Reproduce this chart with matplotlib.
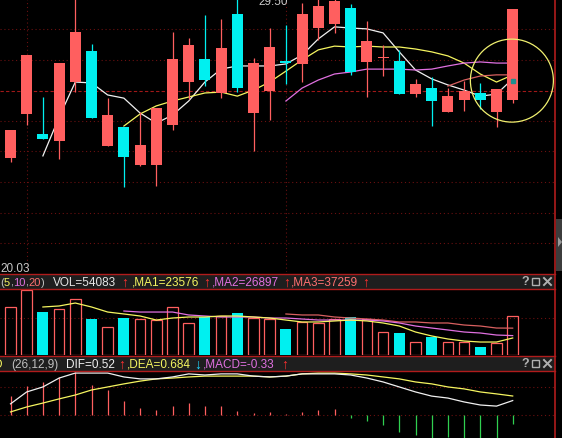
import numpy as np
import matplotlib.pyplot as plt
from matplotlib.patches import Rectangle, Ellipse, Polygon

plt.rcParams['font.family'] = ['Liberation Sans', 'DejaVu Sans']

nan = np.nan

# daily bars, oldest first
opens = [23.97, 25.50, 24.80, 24.56, 26.61, 27.69, 24.38, 25.05, 23.72, 23.72,
         25.12, 26.61, 27.41, 26.23, 28.98, 25.53, 26.30, 27.34, 27.24, 28.49,
         28.63, 29.19, 27.31, 27.43, 27.34, 26.19, 26.40, 25.57, 25.99, 26.23,
         25.57, 25.99]
highs = [24.94, 27.55, 26.09, 27.27, 29.50, 27.93, 26.05, 25.05, 25.57, 25.71,
         28.35, 28.14, 28.94, 28.80, 29.50, 27.45, 28.49, 28.60, 29.36, 29.50,
         29.50, 29.33, 28.73, 27.90, 27.73, 26.72, 26.79, 26.40, 26.65, 26.58,
         26.37, 29.15]
lows = [23.83, 25.12, 24.63, 23.93, 26.26, 25.36, 24.38, 22.96, 23.69, 22.99,
        24.94, 26.02, 26.47, 26.05, 26.26, 24.21, 25.29, 26.54, 26.61, 28.07,
        28.32, 26.86, 26.09, 26.82, 26.19, 26.09, 25.08, 25.57, 25.60, 25.67,
        25.05, 25.88]
closes = [24.94, 27.55, 24.63, 27.27, 28.35, 25.36, 25.46, 24.00, 24.42, 25.71,
          27.41, 27.90, 26.68, 27.79, 26.40, 27.27, 27.83, 27.27, 28.98, 29.26,
          29.43, 26.96, 28.04, 27.45, 26.19, 26.54, 25.95, 26.12, 26.30, 25.99,
          26.37, 29.15]

ma5 = [nan, nan, 24.04, 25.39, 26.61, 26.58, 26.16, 26.05, 25.53, 25.18,
       25.46, 25.95, 26.61, 27.06, 27.17, 27.17, 27.17, 27.24, 27.55, 28.11,
       28.53, 28.49, 28.46, 28.32, 27.66, 27.03, 26.72, 26.51, 26.33, 26.12,
       26.19, 26.72]
ma10 = [nan] * 7 + [25.08, 25.50, 25.78, 25.95, 26.09, 26.23, 26.26, 26.12, 26.33,
                    26.61, 26.99, 27.38, 27.73, 27.86, 27.83, 27.86, 27.83, 27.83,
                    27.76, 27.66, 27.52, 27.27, 26.89, 26.61, 26.86]
ma20 = [nan] * 17 + [25.95, 26.40, 26.68, 26.89, 26.96, 27.06, 27.06, 27.06,
                     27.03, 27.06, 27.17, 27.27, 27.31, 27.27, 27.27]
ma60 = [nan] * 27 + [26.47, 26.68, 26.82, 26.86, 26.86]

vols = [66600, 90200, 59600, 63800, 77700, 49900, 38800, 51300, 49900, 48500,
        66600, 44400, 52700, 54100, 58300, 51300, 49900, 36100, 45800, 44400,
        49900, 52700, 49900, 31900, 30500, 18000, 25000, 18000, 18000, 11100,
        16600, 54083]
vol_ma1 = [nan, nan, 66600, 68000, 72100, 66600, 59600, 56900, 54100, 48500,
           51300, 52700, 52700, 54100, 54100, 52700, 51300, 48500, 45800, 45800,
           47200, 48500, 47200, 44400, 40200, 31900, 26400, 22200, 19400, 18000,
           18000, 23576]
vol_ma2 = [nan] * 7 + [61000, 59600, 59600, 59600, 55500, 54100, 52700, 52700,
                       52700, 51300, 51300, 49900, 48500, 48500, 48500, 48500,
                       47200, 44400, 40200, 37400, 34700, 31900, 30500, 27700, 26897]
vol_ma3 = [nan] * 17 + [56900, 55500, 55500, 52700, 51300, 49900, 48500, 45800,
                        45800, 44400, 44400, 41600, 40200, 37400, 37259]

dif = [0.40, 0.83, 1.01, 1.33, 1.51, 1.51, 1.51, 1.37, 1.30, 1.30,
       1.37, 1.48, 1.44, 1.48, 1.48, 1.40, 1.37, 1.40, 1.48, 1.48,
       1.48, 1.44, 1.33, 1.19, 1.01, 0.83, 0.68, 0.61, 0.47, 0.36,
       0.32, 0.52]
dea = [0.11, 0.29, 0.43, 0.58, 0.72, 0.90, 1.01, 1.12, 1.22, 1.30,
       1.33, 1.37, 1.40, 1.40, 1.40, 1.40, 1.37, 1.40, 1.48, 1.51,
       1.51, 1.48, 1.44, 1.37, 1.30, 1.19, 1.12, 1.01, 0.94, 0.83,
       0.76, 0.684]
macd = [0.68, 1.04, 1.19, 1.37, 1.55, 1.08, 0.90, 0.50, 0.25, 0.18,
        0.32, 0.43, 0.32, 0.32, 0.14, 0.07, 0.11, 0.04, 0.11, 0.18,
        0.22, -0.11, -0.22, -0.36, -0.61, -0.72, -0.88, -0.80, -0.94, -0.94,
        -0.88, -0.33]

RED = '#ff5f5f'
CYAN = '#00f0f0'
WHITE = '#f0f0f0'
YELLOW = '#f5f560'
MAGENTA = '#e070e0'
SALMON = '#d86060'
GREEN = '#30d050'
GRID = '#6a1010'
BORDER = '#b01c1c'
ARROW = '#ff3030'
GRAY = '#c0c0c0'

W, H = 562, 439
fig = plt.figure(figsize=(W / 100, H / 100), dpi=100, facecolor='black')


def panel(top, bottom):
    a = fig.add_axes([0, 1 - bottom / H, 555 / W, (bottom - top) / H])
    a.axis('off')
    a.set_xlim((0 - 10.5) / 16.2, (555 - 10.5) / 16.2)
    return a


x = np.arange(len(opens))
o = np.array(opens)
c = np.array(closes)
up = c >= o
cols = np.where(up, RED, CYAN)

# price panel
ax = panel(0, 273)
ax.set_ylim(20.0, 29.5)
step = 9.5 / 273 * 30.5
for k in range(1, 9):
    if k == 3:
        ax.axhline(29.5 - k * step, color='#a01818', lw=0.8, ls=(0, (3, 2)), zorder=1)
    else:
        ax.axhline(29.5 - k * step, color=GRID, lw=0.8, ls=(0, (1, 2.5)), zorder=1)
for gx in (1, 17):
    ax.axvline(gx, color=GRID, lw=0.8, ls=(0, (1, 2.5)), zorder=1)

ax.plot(x, ma5, color=WHITE, lw=0.9, zorder=2)
ax.plot(x, ma10, color=YELLOW, lw=0.9, zorder=2)
ax.plot(x, ma20, color=MAGENTA, lw=0.9, zorder=2)
ax.plot(x, ma60, color=SALMON, lw=0.9, zorder=2)

ax.vlines(x, lows, highs, colors=cols, lw=0.9, zorder=3)
ax.bar(x, np.maximum(np.abs(c - o), 0.035), bottom=np.minimum(o, c), width=0.68,
       color=cols, lw=0, zorder=4)

ax.add_patch(Ellipse((30.95, 26.66), 83 / 16.2, 83 * 9.5 / 273, fill=False,
                     edgecolor='#f0f070', lw=0.9, zorder=5))
ax.plot([31], [26.66], marker='s', ms=3, color='#1f8f8f', zorder=6)

# volume panel
axv = panel(290, 356)
axv.set_ylim(0, 66 * 1387)
axv.axhline(37 * 1387, color=GRID, lw=0.8, ls=(0, (1, 2.5)), zorder=1)
v = np.array(vols)
axv.bar(x[up], v[up], width=0.66, facecolor='none', edgecolor=RED, lw=0.9, zorder=2)
axv.bar(x[~up], v[~up], width=0.68, color=CYAN, lw=0, zorder=2)
axv.plot(x, vol_ma3, color=SALMON, lw=0.9, zorder=3)
axv.plot(x, vol_ma2, color=MAGENTA, lw=0.9, zorder=3)
axv.plot(x, vol_ma1, color=YELLOW, lw=0.9, zorder=3)

# MACD panel
axm = panel(372, 439)
axm.set_ylim(-23 * 0.036, 44 * 0.036)
axm.axhline(0, color=GRID, lw=0.8, ls=(0, (1, 2.5)), zorder=1)
axm.axhline(1.0, color=GRID, lw=0.8, ls=(0, (1, 2.5)), zorder=1)
m = np.array(macd)
axm.vlines(x, 0, m, colors=np.where(m > 0, RED, GREEN), lw=0.9, zorder=2)
axm.plot(x, dea, color=YELLOW, lw=0.9, zorder=3)
axm.plot(x, dif, color=WHITE, lw=0.9, zorder=3)

# frame, headers and labels in pixel space
ov = fig.add_axes([0, 0, 1, 1])
ov.set_xlim(0, W)
ov.set_ylim(H, 0)
ov.axis('off')
ov.patch.set_alpha(0)

for top in (275, 357):
    ov.add_patch(Rectangle((0, top), 555, 15, color='#1e1e1e', lw=0))
    ov.plot([0, 555], [top, top], color=BORDER, lw=1)
    ov.plot([0, 555], [top + 15, top + 15], color=BORDER, lw=1)
    yc = top + 7.5
    ov.text(521, yc, '?', color='#b0b0b0', fontsize=9, va='center', fontweight='bold')
    ov.add_patch(Rectangle((532, yc - 3.5), 7, 7, fill=False, edgecolor='#b0b0b0', lw=1))
    ov.plot([544, 551], [yc - 3.5, yc + 3.5], color='#b0b0b0', lw=1.4)
    ov.plot([544, 551], [yc + 3.5, yc - 3.5], color='#b0b0b0', lw=1.4)

ov.plot([555, 555], [0, H], color=BORDER, lw=1.2)
ov.add_patch(Rectangle((556, 220), 6, 52, color='#3c3c3c', lw=0))
ov.add_patch(Polygon([(558, 238), (558, 248), (562, 243)], color='#9a9a9a', lw=0))

fs = 8.5
ov.text(258, 5, '29.50', color='#c8c8c8', fontsize=fs, va='baseline')
ov.text(0, 272, '20.03', color='#c8c8c8', fontsize=fs, va='baseline')


def chain(px, py, parts, size):
    # write coloured pieces one after another on the same line
    t = ov.text(px, py, parts[0][0], color=parts[0][1], fontsize=size, va='center')
    for s, col in parts[1:]:
        t = ov.annotate(s, xy=(1, 0.5), xycoords=t, va='center', ha='left',
                        color=col, fontsize=size)


chain(0, 283, [('(', GRAY), ('5', YELLOW), (',', GRAY), ('10', MAGENTA),
               (',', GRAY), ('20', '#ff7070'), (')', GRAY)], 8)

vol_head = [(53, 'VOL=54083', '#e6e6e6', fs), (121, '↑', ARROW, 10),
            (132, ',MA1=23576', YELLOW, fs), (203, '↑', ARROW, 10),
            (212, ',MA2=26897', MAGENTA, fs), (283, '↑', ARROW, 10),
            (291, ',MA3=37259', '#ff7070', fs), (362, '↑', ARROW, 10)]
for px, s, col, size in vol_head:
    ov.text(px, 283, s, color=col, fontsize=size, va='center')

macd_head = [(-6, 'D', YELLOW, fs), (11, '(26,12,9)', GRAY, fs),
             (66, 'DIF=0.52', '#f0f0f0', fs), (118, '↑', ARROW, 10),
             (127, ',DEA=0.684', YELLOW, fs), (194, '↓', '#20d8ff', 10),
             (203, ',MACD=-0.33', MAGENTA, fs), (281, '↑', ARROW, 10)]
for px, s, col, size in macd_head:
    ov.text(px, 365, s, color=col, fontsize=size, va='center')

fig.savefig('out.png', dpi=100, facecolor='black')
